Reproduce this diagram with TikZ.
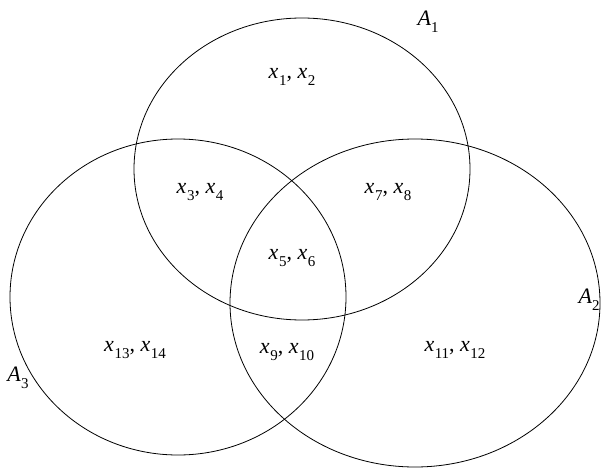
\documentclass[tikz,border=0pt]{standalone}
\usepackage{fontspec}
\setmainfont{Liberation Serif}
\newcommand{\xv}[1]{\textit{x}\kern0.5pt\raisebox{-0.3em}{\fontsize{15}{16}\selectfont #1}}
\begin{document}
\begin{tikzpicture}[x=1pt,y=-1pt,
  set/.style={draw,line width=0.8pt},
  lab/.style={font=\fontsize{22}{26}\selectfont}]
\useasboundingbox (0,0) rectangle (609,470);
\draw[set] (302,169) ellipse [x radius=168, y radius=151];
\draw[set] (415,303) ellipse [x radius=185, y radius=164];
\draw[set] (178,297) ellipse [x radius=168, y radius=158];
\node[lab] (a1) at (428,22) {\textit{A}\raisebox{-0.3em}{\fontsize{15}{16}\selectfont 1}};
\node[lab] (a2) at (589,300) {\textit{A}\raisebox{-0.3em}{\fontsize{15}{16}\selectfont 2}};
\node[lab] (a3) at (18,378) {\textit{A}\raisebox{-0.3em}{\fontsize{15}{16}\selectfont 3}};
\node[lab] (r12) at (292,77) {\xv{1}, \xv{2}};
\node[lab] (r34) at (200,192) {\xv{3}, \xv{4}};
\node[lab] (r78) at (388,192) {\xv{7}, \xv{8}};
\node[lab] (r56) at (292,258) {\xv{5}, \xv{6}};
\node[lab] (r1314) at (135,350) {\xv{13}, \xv{14}};
\node[lab] (r910) at (287,352) {\xv{9}, \xv{10}};
\node[lab] (r1112) at (455,350) {\xv{11}, \xv{12}};
\end{tikzpicture}
\end{document}
